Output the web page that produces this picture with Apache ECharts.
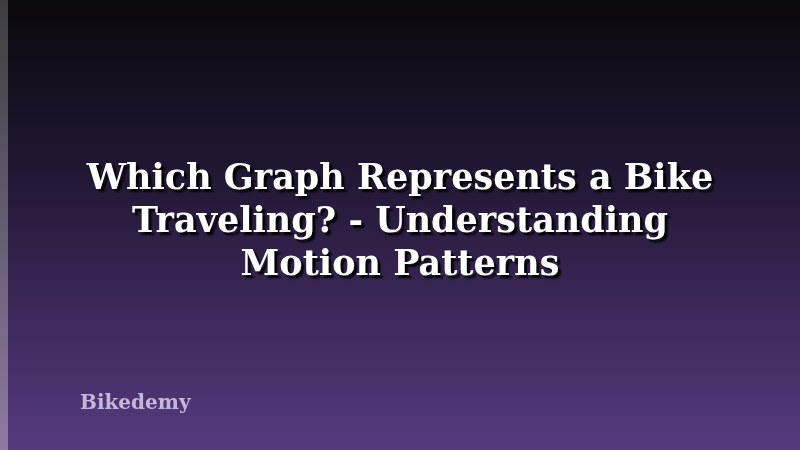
<!DOCTYPE html>
<html>
<head>
<meta charset="utf-8">
<script src="https://cdn.jsdelivr.net/npm/echarts@6/dist/echarts.min.js"></script>
<style>
  html, body { margin: 0; padding: 0; background: #000; }
  #main { width: 800px; height: 450px; }
</style>
</head>
<body>
<div id="main"></div>
<script>
// title lines and brand text
var titleLines = ['Which Graph Represents a Bike', 'Traveling? - Understanding', 'Motion Patterns'];
var brandName = 'Bikedemy';

var chart = echarts.init(document.getElementById('main'), null, {renderer: 'canvas'});

var bg = new echarts.graphic.LinearGradient(0, 0, 0, 1, [
    {offset: 0, color: '#0a090c'},
    {offset: 0.35, color: '#1f1530'},
    {offset: 1, color: '#563a7f'}
]);
var strip = new echarts.graphic.LinearGradient(0, 0, 0, 1, [
    {offset: 0, color: '#3e3e40'},
    {offset: 1, color: '#8d7aa3'}
]);

var option = {
    animation: false,
    graphic: [
        {type: 'rect', shape: {x: 0, y: 0, width: 800, height: 450}, style: {fill: bg}},
        {type: 'rect', shape: {x: 0, y: 0, width: 8, height: 450}, style: {fill: strip}},
        {
            type: 'text',
            x: 400,
            y: 223,
            style: {
                text: titleLines.join('\n'),
                fill: '#ffffff',
                font: 'bold 35px "DejaVu Serif", serif',
                lineHeight: 43,
                align: 'center',
                verticalAlign: 'middle',
                textShadowColor: 'rgba(0,0,0,0.95)',
                textShadowOffsetX: 3,
                textShadowOffsetY: 3,
                textShadowBlur: 2
            }
        },
        {
            type: 'text',
            x: 80,
            y: 404,
            style: {
                text: brandName,
                fill: '#c6b6da',
                font: 'bold 20px "DejaVu Serif", serif',
                align: 'left',
                verticalAlign: 'middle'
            }
        }
    ]
};
chart.setOption(option);
</script>
</body>
</html>
